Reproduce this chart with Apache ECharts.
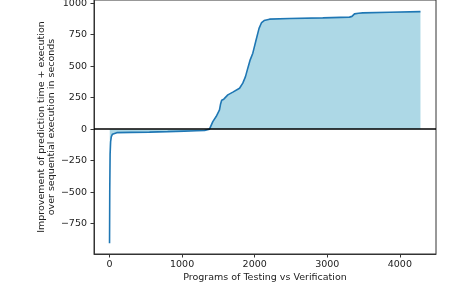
<!DOCTYPE html>
<html>
<head>
<meta charset="utf-8">
<script src="https://cdn.jsdelivr.net/npm/echarts@6/dist/echarts.min.js"></script>
<style>html,body{margin:0;padding:0;background:#fff}#c{width:474px;height:283px}</style>
</head>
<body>
<div id="c"></div>
<script>
// Programs (sorted by improvement) and improvement in seconds
const programIndex = [0, 3, 8, 15, 25, 40, 60, 100, 300, 550, 800, 1030, 1200, 1310, 1377, 1423, 1469, 1515, 1530, 1545, 1574, 1630, 1699, 1791, 1836, 1873, 1905, 1938, 1974, 2020, 2060, 2095, 2130, 2204, 2479, 2938, 3306, 3340, 3375, 3430, 3489, 3857, 4284];
const improvement = [-905, -500, -200, -100, -60, -40, -32, -28, -26, -24, -20, -16, -13, -11, 0, 60, 100, 153, 200, 230, 238, 272, 294, 325, 365, 417, 484, 550, 603, 709, 800, 846, 862, 873, 878, 883, 889, 895, 915, 920, 923, 928, 933];
const xTicks = [0, 1000, 2000, 3000, 4000];
const yTicks = [-750, -500, -250, 0, 250, 500, 750, 1000];

const font = 'DejaVu Sans';
const fmt = v => String(v).replace('-', '\u2212');
const chart = echarts.init(document.getElementById('c'), null, {renderer: 'canvas'});
chart.setOption({
  animation: false,
  grid: {left: 94, right: 38, top: 0, bottom: 29, outerBoundsMode: 'none', containLabel: false, show: true, borderColor: '#333', borderWidth: 1, backgroundColor: 'transparent'},
  xAxis: {
    type: 'value', min: -214, max: 4498,
    name: 'Programs of Testing vs Verification', nameLocation: 'middle', nameGap: 19, nameMoveOverlap: false,
    nameTextStyle: {fontFamily: font, fontSize: 9.5, color: '#222'},
    axisLine: {onZero: false, lineStyle: {color: '#333', width: 1}},
    axisTick: {show: true, length: 3.5, customValues: xTicks, lineStyle: {color: '#333'}},
    axisLabel: {customValues: xTicks, margin: 6, fontFamily: font, fontSize: 9.5, color: '#222', formatter: fmt},
    splitLine: {show: false}
  },
  yAxis: {
    type: 'value', min: -991, max: 1025,
    name: 'Improvement of prediction time + execution\nover sequential execution in seconds',
    nameLocation: 'middle', nameRotate: 90, nameGap: 37, nameMoveOverlap: false,
    nameTextStyle: {fontFamily: font, fontSize: 9.5, color: '#222', lineHeight: 10.5, align: 'center'},
    axisLine: {onZero: false, lineStyle: {color: '#333', width: 1}},
    axisTick: {show: true, length: 3.5, customValues: yTicks, lineStyle: {color: '#333'}},
    axisLabel: {customValues: yTicks, margin: 7, fontFamily: font, fontSize: 9.5, color: '#222', formatter: fmt},
    splitLine: {show: false}
  },
  series: [{
    type: 'line',
    data: programIndex.map((x, i) => [x, improvement[i]]),
    showSymbol: false, symbol: 'none', smooth: false,
    lineStyle: {color: '#1f77b4', width: 1.6},
    areaStyle: {color: '#add8e6', opacity: 1, origin: 0},
    emphasis: {disabled: true},
    silent: true,
    markLine: {
      silent: true, symbol: 'none', label: {show: false},
      lineStyle: {color: '#000', width: 1.5, type: 'solid'},
      emphasis: {disabled: true},
      data: [{yAxis: 0}]
    }
  }]
});
</script>
</body>
</html>
